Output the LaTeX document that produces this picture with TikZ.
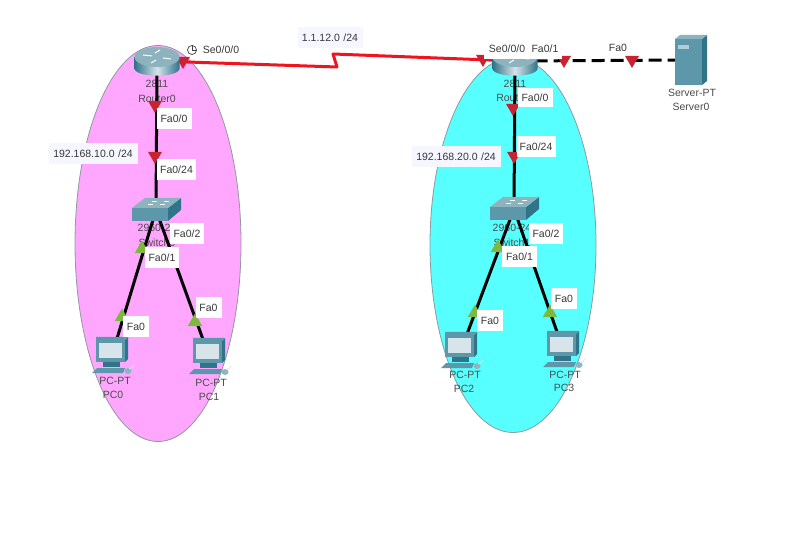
\documentclass[tikz,border=0pt]{standalone}
\usepackage{fontspec}
\setmainfont{Liberation Sans}
\usetikzlibrary{shapes.geometric}
\definecolor{lanpink}{HTML}{FFA6FF}
\definecolor{lancyan}{HTML}{57FFFF}
\definecolor{zoneline}{HTML}{8E9A9E}
\definecolor{serialred}{HTML}{F0141E}
\definecolor{portred}{HTML}{C8232F}
\definecolor{portgreen}{HTML}{7DB93F}
\definecolor{netbox}{HTML}{F5F6FF}
\definecolor{tealmid}{HTML}{5C97AA}
\definecolor{tealdark}{HTML}{2F7488}
\definecolor{teallight}{HTML}{D7E4EA}
\definecolor{routertop}{HTML}{8DB3BE}

\begin{document}
\begin{tikzpicture}[
  x=1pt, y=-1pt,
  every node/.style={font=\fontsize{10.5}{12}\selectfont, text=black!78},
  device/.style={inner sep=0pt},
  devtext/.style={inner sep=0pt, text=black!70},
  portbox/.style={fill=white, inner sep=0pt, minimum height=21pt, text width=#1, align=center},
  portbox/.default=34pt,
  netbox/.style={fill=netbox, inner sep=0pt, minimum height=21pt, text width=#1, align=center},
  fastlink/.style={draw=black, line width=3pt},
  seriallink/.style={draw=serialred, line width=3pt, line join=round},
  dashlink/.style={draw=black, line width=3pt, dash pattern=on 13pt off 6pt},
  portdown/.style={regular polygon, regular polygon sides=3, shape border rotate=180, fill=portred, inner sep=0pt, minimum size=16pt},
  portup/.style={regular polygon, regular polygon sides=3, fill=portgreen, inner sep=0pt, minimum size=17pt},
  routericon/.pic={
    \path[left color=tealdark, right color=tealdark, middle color=teallight] (-22.5,-4) -- (-22.5,8) .. controls (-20,17) and (20,17) .. (22.5,8) -- (22.5,-4) -- cycle;
    \fill[routertop] (0,-4) ellipse (22.5 and 10);
    \draw[white, line width=1pt] (-14,-6) -- (-5,-5) (3,-11) -- (-2,-8) (14,-2) -- (6,-3) (-6,2) -- (-1,-1);
  },
  switchicon/.pic={
    \fill[tealmid] (-24,-2) -- (12,-2) -- (12,11) -- (-24,11) -- cycle;
    \fill[tealdark] (12,-2) -- (25,-12) -- (25,0) -- (12,11) -- cycle;
    \fill[routertop] (-24,-2) -- (-11,-12) -- (25,-12) -- (12,-2) -- cycle;
    \draw[white, line width=.7pt] (-8,-6) -- (-3,-6) (-4,-9) -- (1,-9) (4,-6) -- (9,-6) (8,-9) -- (13,-9);
  },
  pcicon/.pic={
    \fill[tealdark] (13,-15) -- (16,-18) -- (16,4) -- (13,7) -- cycle;
    \fill[tealmid] (-16,-18) -- (16,-18) -- (13,-15) -- (-16,-15) -- cycle;
    \fill[tealmid] (-16,-15) -- (13,-15) -- (13,7) -- (-16,7) -- cycle;
    \fill[teallight] (-13,-12) -- (10,-12) -- (10,3) -- (-13,3) -- cycle;
    \fill[tealdark] (-9,7) -- (8,7) -- (8,12) -- (-9,12) -- cycle;
    \fill[tealmid] (-15,13) -- (13,13) -- (11,18) -- (-20,18) -- cycle;
    \fill[tealmid!70] (16,16) ellipse (3.5 and 3);
    \draw[teallight, line width=.7pt] (17,14) .. controls (20,13) and (21,12) .. (22,10);
  },
  servericon/.pic={
    \fill[tealmid] (-15,-21) -- (12,-21) -- (12,25) -- (-15,25) -- cycle;
    \fill[tealdark] (12,-21) -- (17,-25) -- (17,21) -- (12,25) -- cycle;
    \fill[routertop] (-15,-21) -- (-10,-25) -- (17,-25) -- (12,-21) -- cycle;
    \fill[teallight!70!tealmid] (-12,-15) -- (-1,-15) -- (-1,-11) -- (-12,-11) -- cycle;
  },
]

\fill[white] (0,0) rectangle (800,534);
\useasboundingbox (0,0) rectangle (800,534);

% LAN zones
\node[ellipse, draw=zoneline, line width=.8pt, fill=lanpink, minimum width=166pt, minimum height=396pt, inner sep=0pt] (zoneleft) at (158,243.5) {};
\node[ellipse, draw=zoneline, line width=.8pt, fill=lancyan, minimum width=166pt, minimum height=375pt, inner sep=0pt] (zoneright) at (513,245) {};

% Device anchors
\node[device] (router0) at (157,61) {};
\node[device] (router1) at (515,61) {};
\node[device] (switch0) at (156,210) {};
\node[device] (switch1) at (514,209) {};
\node[device] (pc0) at (112,355) {};
\node[device] (pc1) at (209,356) {};
\node[device] (pc2) at (461,350) {};
\node[device] (pc3) at (563,349) {};
\node[device] (server0) at (690,60) {};
\coordinate (zigleft) at (337,67);
\coordinate (zigright) at (333,54);

% Device names sit under the links
\node[devtext] (routermodel0) at (157,84) {2811};
\node[devtext] (routername0) at (157,99) {Router0};
\node[devtext] (routermodel1) at (515,84) {2811};
\node[devtext] (routername1) at (515,98) {Router1};
\node[devtext] (switchmodel0) at (157,228) {2960-24};
\node[devtext] (switchname0) at (157,243) {Switch0};
\node[devtext] (switchmodel1) at (512,228) {2960-24};
\node[devtext] (switchname1) at (512,243) {Switch1};
\node[devtext] (pcmodel0) at (115,381) {PC-PT};
\node[devtext] (pcname0) at (113,395) {PC0};
\node[devtext] (pcmodel1) at (211,383) {PC-PT};
\node[devtext] (pcname1) at (209,397) {PC1};
\node[devtext] (pcmodel2) at (465,375) {PC-PT};
\node[devtext] (pcname2) at (464,389) {PC2};
\node[devtext] (pcmodel3) at (565,375) {PC-PT};
\node[devtext] (pcname3) at (564,388) {PC3};
\node[devtext] (servermodel0) at (692,93) {Server-PT};
\node[devtext] (servername0) at (691,107) {Server0};

% Links
\draw[seriallink] (router0) -- (zigleft) -- (zigright) -- (router1);
\draw[fastlink] (router0) -- (switch0);
\draw[fastlink] (router1) -- (switch1);
\draw[fastlink] (switch0) -- (pc0);
\draw[fastlink] (switch0) -- (pc1);
\draw[fastlink] (switch1) -- (pc2);
\draw[fastlink] (switch1) -- (pc3);
\draw[dashlink] (router1) -- (server0);

% Port lights
\node[portdown] (lightse0) at (183,61) {};
\node[portdown] (lightfa00) at (155,105) {};
\node[portdown] (lightfa024) at (155,156) {};
\node[portdown] (lightse1) at (483,59) {};
\node[portdown] (lightfa10) at (513,108) {};
\node[portdown] (lightfa124) at (514,156) {};
\node[portdown] (lightfa11) at (564,60) {};
\node[portdown] (lightserver) at (632,60) {};
\node[portup] (lightsw0a) at (142,249) {};
\node[portup] (lightpc0) at (122,317) {};
\node[portup] (lightpc1) at (195,322) {};
\node[portup] (lightsw1a) at (498,248) {};
\node[portup] (lightpc2) at (475,313) {};
\node[portup] (lightpc3) at (550,313) {};

% Icons
\pic at (router0) {routericon};
\pic at (router1) {routericon};
\pic at (switch0) {switchicon};
\pic at (switch1) {switchicon};
\pic at (pc0) {pcicon};
\pic at (pc1) {pcicon};
\pic at (pc2) {pcicon};
\pic at (pc3) {pcicon};
\pic at (server0) {servericon};

% Port and network labels
\node[inner sep=0pt] (se0label) at (221,50) {Se0/0/0};
\node[circle, draw=black!75, line width=.7pt, minimum size=9pt, inner sep=0pt] (clock0) at (192,50) {};
\draw[black!75, line width=.7pt] (clock0.center) -- (clock0.north);
\draw[black!75, line width=.7pt] (clock0.center) -- (clock0.east);
\node[netbox=65pt] (netserial) at (330,38) {1.1.12.0 /24};
\node[netbox=89pt] (netleft) at (93,153.5) {192.168.10.0 /24};
\node[netbox=89pt] (netright) at (456,157) {192.168.20.0 /24};
\node[portbox=46pt, minimum height=20pt] (se1label) at (507,49) {Se0/0/0};
\node[portbox=33pt, minimum height=20pt] (fa11label) at (545,49) {Fa0/1};
\node[inner sep=0pt] (fa0server) at (618,48) {Fa0};
\node[portbox=35pt] (fa00label) at (174,119) {Fa0/0};
\node[portbox=39pt] (fa024label) at (176.5,169.5) {Fa0/24};
\node[portbox=34pt] (fa02label) at (187,234) {Fa0/2};
\node[portbox=34pt] (fa01label) at (162,257.5) {Fa0/1};
\node[portbox=26pt] (fa0pc0) at (136,326.5) {Fa0};
\node[portbox=26pt] (fa0pc1) at (208.5,307.5) {Fa0};
\node[portbox=35pt, minimum height=19pt] (fa10label) at (535,97.5) {Fa0/0};
\node[portbox=39pt] (fa124label) at (536,146.5) {Fa0/24};
\node[portbox=34pt] (fa12label) at (546,234) {Fa0/2};
\node[portbox=35pt] (fa11blabel) at (519.5,256.5) {Fa0/1};
\node[portbox=26pt] (fa0pc2) at (490,321) {Fa0};
\node[portbox=26pt] (fa0pc3) at (564,298.5) {Fa0};

\end{tikzpicture}
\end{document}
